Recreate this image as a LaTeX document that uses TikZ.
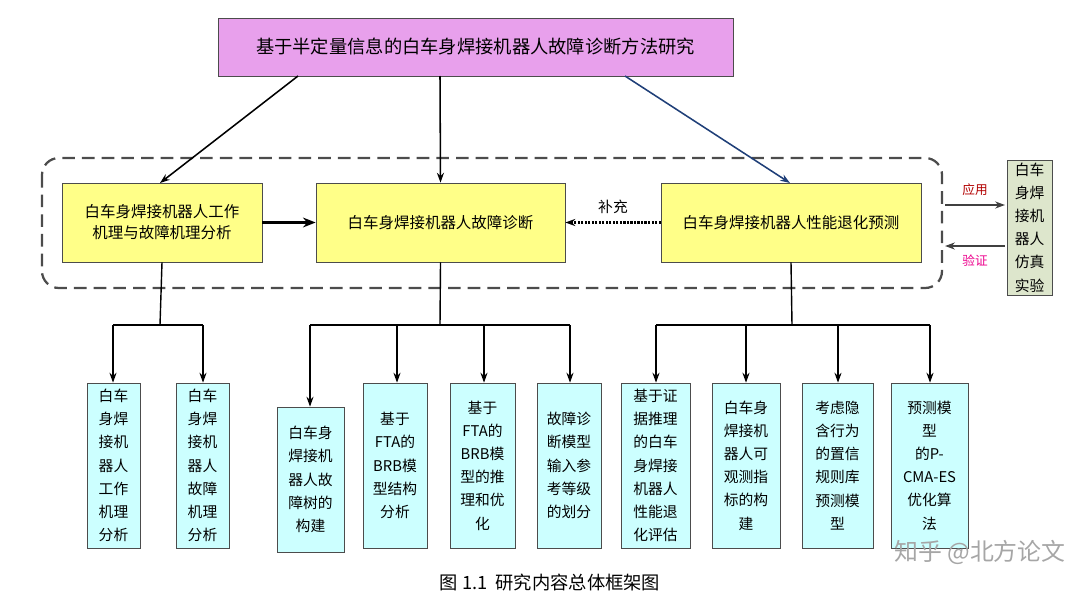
\documentclass[tikz,border=0pt]{standalone}
\usepackage{fontspec}
\setmainfont{Noto Sans CJK SC}
\usetikzlibrary{arrows.meta}
\definecolor{vio}{HTML}{E8A0EC}
\definecolor{yel}{HTML}{FFFF88}
\definecolor{cy}{HTML}{CCFFFF}
\definecolor{gr}{HTML}{DDE6CC}
\definecolor{bl}{HTML}{1F3F78}
\begin{document}
\begin{tikzpicture}[x=0.025cm,y=-0.025cm,
 box/.style={draw=black!70,line width=0.5pt,inner sep=0pt,align=center},
 mid/.style={font=\fontsize{11}{15}\selectfont},
 sm/.style={font=\fontsize{10.5}{16.5}\selectfont},
 arr/.style={-{Stealth[length=7pt,width=5pt]},line width=1.1pt},
 br/.style={line width=1pt}]
\useasboundingbox (0,0) rectangle (1090,599);
\node[box,fill=vio,minimum width=515*0.025cm,minimum height=58*0.025cm,font=\fontsize{13}{16}\selectfont] (top) at (475.5,47) {基于半定量信息的白车身焊接机器人故障诊断方法研究};
\draw[dash pattern=on 9pt off 5pt,line width=1.6pt,rounded corners=12pt,black!70] (42,158) rectangle (942,288);
\node[box,fill=yel,mid,minimum width=200*0.025cm,minimum height=79*0.025cm] (A) at (162,222.5) {白车身焊接机器人工作\\机理与故障机理分析};
\node[box,fill=yel,mid,minimum width=249*0.025cm,minimum height=79*0.025cm] (B) at (440.5,222.5) {白车身焊接机器人故障诊断};
\node[box,fill=yel,mid,minimum width=260*0.025cm,minimum height=79*0.025cm] (C) at (791,222.5) {白车身焊接机器人性能退化预测};
\node[box,fill=gr,sm,minimum width=45*0.025cm,minimum height=135*0.025cm] (R) at (1029.5,227.5) {白车\\身焊\\接机\\器人\\仿真\\实验};
\coordinate (t1) at (298,76); \coordinate (t2) at (440,76); \coordinate (t3) at (625,76);
\draw[arr] (t1) -- (160,183);
\draw[arr] (t2) -- (B.north);
\draw[arr,bl] (t3) -- (790,183);
\draw[-{Stealth[length=9pt,width=7pt]},line width=2pt] (A) -- (B);
\draw[-{Stealth[length=7pt,width=5pt]},line width=1.5pt,densely dotted] (C) -- node[above=2pt,font=\fontsize{10.5}{12}\selectfont]{补充} (B);
\coordinate (a1) at (945,205); \coordinate (a2) at (1005,205);
\coordinate (v1) at (1005,246); \coordinate (v2) at (945,246);
\draw[-{Stealth[length=7pt,width=5pt]},line width=2pt,black!75] (a1) -- node[above=2pt,red!70!black,font=\fontsize{9}{10}\selectfont]{应用} (a2);
\draw[-{Stealth[length=7pt,width=5pt]},line width=2pt,black!75] (v1) -- node[below=2pt,magenta,font=\fontsize{9}{10}\selectfont]{验证} (v2);
\foreach \n/\x/\w/\y/\h/\t in {
 b1/113.5/53/465.5/165/{白车\\身焊\\接机\\器人\\工作\\机理\\分析},
 b2/202.5/53/465.5/165/{白车\\身焊\\接机\\器人\\故障\\机理\\分析},
 b3/310.5/67/479.5/145/{白车身\\焊接机\\器人故\\障树的\\构建},
 b4/395/64/465.5/165/{基于\\FTA的\\BRB模\\型结构\\分析},
 b5/482.5/65/465.5/165/{基于\\FTA的\\BRB模\\型的推\\理和优\\化},
 b6/569/64/465.5/165/{故障诊\\断模型\\输入参\\考等级\\的划分},
 b7/655.5/69/465.5/165/{基于证\\据推理\\的白车\\身焊接\\机器人\\性能退\\化评估},
 b8/746/68/465.5/165/{白车身\\焊接机\\器人可\\观测指\\标的构\\建},
 b9/837.5/71/465.5/165/{考虑隐\\含行为\\的置信\\规则库\\预测模\\型},
 b10/929.5/77/465.5/165/{预测模\\型\\的P-\\CMA-ES\\优化算\\法}}
 {\node[box,fill=cy,sm,minimum width=\w*0.025cm,minimum height=\h*0.025cm] (\n) at (\x,\y) {\t};}
\draw[br] (A.south) -- (160,325);
\draw[br] (B.south) -- (440,325);
\draw[br] (C.south) -- (792,325);
\draw[br] (113,325) -- (203,325);
\draw[br] (310,325) -- (570,325);
\draw[br] (656,325) -- (930,325);
\foreach \n/\x in {b1/113,b2/203,b3/310,b4/397,b5/484,b6/570,b7/656,b8/746,b9/838,b10/930}
 \draw[arr] (\x,325) -- ({\x,325} |- \n.north);
\node[font=\fontsize{13}{15}\selectfont] (cap) at (550,583) {图 1.1\ \ 研究内容总体框架图};
\node[font=\fontsize{17}{20}\selectfont,black!35] (wm) at (980,552) {知乎 @北方论文};
\end{tikzpicture}
\end{document}
